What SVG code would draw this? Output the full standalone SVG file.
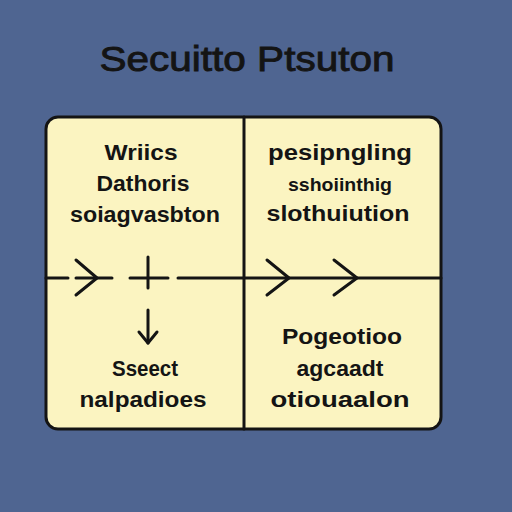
<svg xmlns="http://www.w3.org/2000/svg" width="512" height="512" viewBox="0 0 512 512">
<style>
.t{font-family:"Liberation Sans",Arial,sans-serif;fill:#141414;text-anchor:middle;font-weight:bold;}
.b{font-size:22px;}
.ln{stroke:#141414;stroke-width:3;fill:none;stroke-linecap:round;stroke-linejoin:round;}
</style>
<rect width="512" height="512" fill="#4f6591"/>
<text x="247" y="71" font-family="Liberation Sans,Arial,sans-serif" font-size="35" fill="#141414" stroke="#141414" stroke-width="0.9" text-anchor="middle" textLength="295" lengthAdjust="spacingAndGlyphs">Secuitto Ptsuton</text>
<g id="frame">
<rect x="46" y="117" width="395" height="312" rx="12" fill="#fbf4c1" stroke="#141414" stroke-width="3"/>
<line class="ln" x1="244" y1="117" x2="244" y2="429"/>
</g>
<g id="n1">
<text class="t b" x="141" y="160" textLength="73" lengthAdjust="spacingAndGlyphs">Wriics</text>
<text class="t b" x="143" y="191" textLength="93" lengthAdjust="spacingAndGlyphs">Dathoris</text>
<text class="t b" x="145" y="222" textLength="150" lengthAdjust="spacingAndGlyphs">soiagvasbton</text>
</g>
<g id="n2">
<text class="t b" x="340" y="160" textLength="144" lengthAdjust="spacingAndGlyphs">pesipngling</text>
<text class="t" x="340" y="191" font-size="19" textLength="104" lengthAdjust="spacingAndGlyphs">sshoiinthig</text>
<text class="t b" x="338" y="221" textLength="143" lengthAdjust="spacingAndGlyphs">slothuiution</text>
</g>
<g id="n3">
<text class="t b" x="145" y="376" textLength="66" lengthAdjust="spacingAndGlyphs">Sseect</text>
<text class="t b" x="143" y="407" textLength="127" lengthAdjust="spacingAndGlyphs">nalpadioes</text>
</g>
<g id="n4">
<text class="t b" x="342" y="344" textLength="120" lengthAdjust="spacingAndGlyphs">Pogeotioo</text>
<text class="t b" x="340" y="376" textLength="87" lengthAdjust="spacingAndGlyphs">agcaadt</text>
<text class="t b" x="340" y="407" textLength="139" lengthAdjust="spacingAndGlyphs">otiouaalon</text>
</g>
<g id="connectors">
<line class="ln" x1="46" y1="278" x2="68" y2="278"/>
<line class="ln" x1="76" y1="278" x2="112" y2="278"/>
<polyline class="ln" points="76,260 97,278 76,295"/>
<line class="ln" x1="130" y1="278" x2="168" y2="278"/>
<line class="ln" x1="178" y1="278" x2="441" y2="278"/>
<polyline class="ln" points="267,260 289,278 267,295"/>
<polyline class="ln" points="334,260 357,278 334,295"/>
<line class="ln" x1="148" y1="257" x2="148" y2="288"/>
<line class="ln" x1="148" y1="310" x2="148" y2="343"/>
<polyline class="ln" points="139,332 148,343 157,332"/>
</g>
</svg>
